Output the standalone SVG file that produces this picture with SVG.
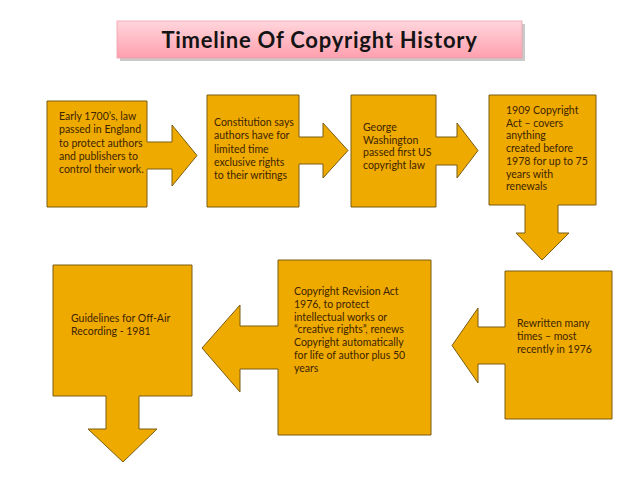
<svg xmlns="http://www.w3.org/2000/svg" width="638" height="478" viewBox="0 0 638 478">
<defs>
<linearGradient id="pink" x1="0" y1="0" x2="0" y2="1">
<stop offset="0" stop-color="#ffd6dc"/>
<stop offset="1" stop-color="#ff9fae"/>
</linearGradient>
<style>
.callout{fill:#efaa00;stroke:#7a5c14;stroke-width:1}
.t{font-family:Lato,"Liberation Sans",sans-serif;font-size:10.5px;fill:#3d2400}
.title{font-family:Lato,"Liberation Sans",sans-serif;font-size:22px;font-weight:bold;fill:#141414;letter-spacing:0.75px}
</style>
</defs>
<rect width="638" height="478" fill="#ffffff"/>
<g id="title">
<rect x="120" y="24" width="405" height="37" fill="#c9c9c9"/>
<rect x="117" y="21" width="405" height="37" fill="url(#pink)" stroke="#eda3ad" stroke-width="0.8"/>
<text class="title" x="319.5" y="47.5" text-anchor="middle">Timeline Of Copyright History</text>
</g>
<g id="connectors"></g>
<g id="node1">
<path class="callout" d="M47,101 H147 V142 H172 V125 L197,155.5 L172,186 V169 H147 V207 H47 Z"/>
<text class="t"><tspan x="59" y="120">Early 1700’s, law</tspan><tspan x="59" y="133.3">passed in England</tspan><tspan x="59" y="146.6">to protect authors</tspan><tspan x="59" y="159.9">and publishers to</tspan><tspan x="59" y="173.2">control their work.</tspan></text>
</g>
<g id="node2">
<path class="callout" d="M207,95 H299 V137 H323 V123 L348,150.5 L323,178 V164 H299 V207 H207 Z"/>
<text class="t"><tspan x="214" y="126">Constitution says</tspan><tspan x="214" y="139.3">authors have for</tspan><tspan x="214" y="152.6">limited time</tspan><tspan x="214" y="165.9">exclusive rights</tspan><tspan x="214" y="179.2">to their writings</tspan></text>
</g>
<g id="node3">
<path class="callout" d="M351,95 H436 V137 H457 V123 L478,150.5 L457,178 V165 H436 V207 H351 Z"/>
<text class="t"><tspan x="363" y="131">George</tspan><tspan x="363" y="143.5">Washington</tspan><tspan x="363" y="156">passed first US</tspan><tspan x="363" y="168.5">copyright law</tspan></text>
</g>
<g id="node4">
<path class="callout" d="M489,95 H596 V205 H558 V233 H569 L542,260 L516,233 H525 V205 H489 Z"/>
<text class="t"><tspan x="506" y="114">1909 Copyright</tspan><tspan x="506" y="126.7">Act – covers</tspan><tspan x="506" y="139.4">anything</tspan><tspan x="506" y="152.1">created before</tspan><tspan x="506" y="164.8">1978 for up to 75</tspan><tspan x="506" y="177.5">years with</tspan><tspan x="506" y="190.2">renewals</tspan></text>
</g>
<g id="node5">
<path class="callout" d="M505,271 H612 V419 H505 V364 H478 V383 L452,345.5 L478,308 V327 H505 Z"/>
<text class="t"><tspan x="517" y="327">Rewritten many</tspan><tspan x="517" y="340">times – most</tspan><tspan x="517" y="353">recently in 1976</tspan></text>
</g>
<g id="node6">
<path class="callout" d="M278,260 H431 V435 H278 V369 H240 V392 L202,348 L240,305 V326 H278 Z"/>
<text class="t"><tspan x="294" y="295">Copyright Revision Act</tspan><tspan x="294" y="307.8">1976, to protect</tspan><tspan x="294" y="320.6">intellectual works or</tspan><tspan x="294" y="333.4">“creative rights”, renews</tspan><tspan x="294" y="346.2">Copyright automatically</tspan><tspan x="294" y="359">for life of author plus 50</tspan><tspan x="294" y="371.8">years</tspan></text>
</g>
<g id="node7">
<path class="callout" d="M53,265 H192 V396 H139 V429 H157 L123,462 L88,429 H106 V396 H53 Z"/>
<text class="t"><tspan x="71" y="322">Guidelines for Off-Air</tspan><tspan x="71" y="334.5">Recording - 1981</tspan></text>
</g>
</svg>
